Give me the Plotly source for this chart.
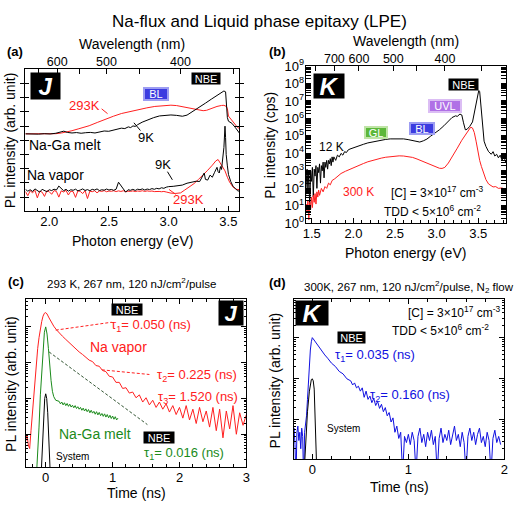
import numpy as np
import plotly.graph_objects as go

W, H = 520, 509
FONT = "Liberation Sans, Arial, sans-serif"

# ---------------- Panel (a): PL spectra, sample J (linear, arb. units) ----------------
a_melt9K_E = [1.80, 1.823, 1.862, 1.910, 1.958, 2.007, 2.055, 2.093, 2.122, 2.151, 2.190, 2.228, 2.267, 2.305,
              2.344, 2.383, 2.421, 2.460, 2.498, 2.537, 2.575, 2.604, 2.633, 2.662, 2.682, 2.701, 2.720, 2.739,
              2.778, 2.826, 2.874, 2.923, 2.971, 3.019, 3.067, 3.115, 3.154, 3.212, 3.260, 3.308, 3.357, 3.405,
              3.443, 3.463, 3.477, 3.487, 3.492, 3.501, 3.530, 3.559, 3.588, 3.607]
a_melt9K_I = [5.46, 5.45, 5.48, 5.44, 5.47, 5.45, 5.50, 5.58, 5.65, 5.56, 5.52, 5.55, 5.50, 5.54,
              5.56, 5.52, 5.60, 5.66, 5.64, 5.74, 5.80, 5.86, 5.83, 5.95, 5.90, 6.02, 5.98, 6.10,
              6.28, 6.45, 6.60, 6.72, 6.78, 6.79, 6.76, 6.70, 6.78, 7.08, 7.35, 7.62, 7.90, 8.18,
              8.40, 8.48, 8.42, 7.20, 6.60, 6.35, 6.20, 5.90, 5.50, 5.35]
a_melt293K_E = [1.80, 1.958, 2.055, 2.103, 2.151, 2.190, 2.248, 2.334, 2.402, 2.469, 2.537, 2.604, 2.672,
                2.739, 2.817, 2.884, 2.952, 3.019, 3.067, 3.125, 3.183, 3.241, 3.289, 3.318, 3.366, 3.405,
                3.443, 3.463, 3.482, 3.492, 3.501, 3.530, 3.550, 3.578, 3.607]
a_melt293K_I = [5.46, 5.44, 5.47, 5.52, 5.58, 5.68, 5.82, 6.03, 6.26, 6.49, 6.70, 6.89, 7.03,
                7.16, 7.29, 7.39, 7.45, 7.48, 7.45, 7.35, 7.22, 7.12, 7.09, 7.12, 7.28, 7.39,
                7.46, 7.47, 7.40, 7.25, 6.71, 6.40, 6.14, 5.90, 5.78]
a_vap9K_E = [1.80, 1.82, 1.84, 1.86, 1.88, 1.90, 1.92, 1.94, 1.96, 1.98, 2.00, 2.02, 2.04, 2.06, 2.08, 2.10,
             2.12, 2.14, 2.16, 2.18, 2.20, 2.22, 2.24, 2.26, 2.28, 2.30, 2.32, 2.34, 2.36, 2.38, 2.40, 2.42,
             2.44, 2.46, 2.48, 2.50, 2.52, 2.54, 2.56, 2.58, 2.60, 2.62, 2.64, 2.66, 2.68, 2.70, 2.72, 2.74,
             2.76, 2.78, 2.80, 2.82, 2.84, 2.86, 2.88, 2.90, 2.92, 2.94, 2.96, 2.98, 3.00, 3.038, 3.076, 3.115,
             3.154, 3.192, 3.231, 3.260, 3.289, 3.298, 3.308, 3.327, 3.347, 3.366, 3.385, 3.405, 3.414, 3.424,
             3.434, 3.443, 3.463, 3.472, 3.477, 3.482, 3.492, 3.501, 3.520, 3.540, 3.559, 3.578, 3.598, 3.607]
a_vap9K_I = [1.55, 1.42, 1.52, 1.40, 1.58, 1.45, 1.35, 1.55, 1.48, 1.38, 1.52, 1.46, 1.56, 1.50, 1.78, 1.62,
             1.45, 1.55, 1.42, 1.52, 1.48, 1.56, 1.44, 1.50, 1.58, 1.47, 1.53, 1.45, 1.55, 1.50, 1.58, 1.46,
             1.52, 1.49, 1.57, 1.50, 1.54, 1.48, 1.56, 2.05, 1.80, 1.62, 1.35, 1.52, 1.48, 1.55, 1.47, 1.56,
             1.52, 1.58, 1.50, 1.57, 1.53, 1.60, 1.55, 1.62, 1.58, 1.66, 1.62, 1.70, 1.74, 1.76, 1.78, 1.85,
             1.98, 2.05, 2.12, 2.10, 2.55, 2.70, 2.25, 2.20, 2.55, 2.40, 2.75, 3.10, 2.80, 2.70,
             3.15, 2.95, 4.50, 6.00, 5.20, 4.00, 3.20, 2.60, 2.10, 1.75, 1.60, 1.45, 1.40, 1.38]
a_vap293K_E = [1.80, 1.82, 1.84, 1.86, 1.88, 1.90, 1.92, 1.94, 1.96, 1.98, 2.00, 2.02, 2.04, 2.06, 2.08, 2.10,
               2.12, 2.14, 2.16, 2.18, 2.20, 2.22, 2.24, 2.26, 2.28, 2.30, 2.32, 2.34, 2.36, 2.38, 2.40, 2.42,
               2.44, 2.46, 2.48, 2.50, 2.52, 2.54, 2.56, 2.58, 2.60, 2.62, 2.64, 2.66, 2.68, 2.70, 2.72, 2.74,
               2.76, 2.78, 2.80, 2.82, 2.84, 2.86, 2.88, 2.90, 2.92, 2.94, 2.96, 2.98, 3.02, 3.06, 3.10, 3.135,
               3.173, 3.212, 3.250, 3.289, 3.328, 3.366, 3.395, 3.414, 3.434, 3.453, 3.472, 3.492, 3.511, 3.540,
               3.569, 3.607]
a_vap293K_I = [1.40, 1.10, 1.45, 1.30, 1.48, 0.95, 1.42, 1.35, 1.05, 1.45, 1.38, 1.20, 1.46, 1.40, 1.00, 1.44,
               1.36, 1.48, 1.15, 1.42, 1.38, 0.98, 1.45, 1.40, 1.25, 1.46, 0.90, 1.42, 1.38, 1.45, 1.30, 1.44,
               1.40, 1.46, 1.38, 1.43, 1.41, 1.45, 1.39, 1.44, 1.40, 1.45, 1.38, 1.42, 1.40, 1.44, 1.39, 1.43,
               1.41, 1.45, 1.40, 1.44, 1.41, 1.43, 1.39, 1.42, 1.40, 1.38, 1.40, 1.36, 1.28, 1.26, 1.30, 1.50,
               1.70, 1.95, 2.25, 2.55, 2.90, 3.25, 3.55, 3.65, 3.40, 3.15, 2.85, 2.40, 2.05, 1.70,
               1.55, 1.50]

# ---------------- Panel (b): PL spectra, sample K (log10 of counts/s) ----------------
b_12K_E = [1.400, 1.410, 1.421, 1.432, 1.443, 1.453, 1.464, 1.475, 1.486, 1.496, 1.507, 1.518, 1.529, 1.539,
           1.550, 1.561, 1.572, 1.582, 1.593, 1.604, 1.615, 1.625, 1.636, 1.647, 1.658, 1.668, 1.679, 1.690,
           1.701, 1.711, 1.722, 1.733, 1.744, 1.754, 1.765, 1.787, 1.808, 1.830, 1.851, 1.873, 1.894, 1.916,
           1.937, 1.959, 2.012, 2.066, 2.120, 2.173, 2.227, 2.281, 2.335, 2.388, 2.442, 2.496, 2.550, 2.603,
           2.657, 2.711, 2.764, 2.797, 2.840, 2.883, 2.926, 2.979, 3.033, 3.087, 3.141, 3.184, 3.227, 3.248,
           3.280, 3.302, 3.323, 3.345, 3.366, 3.398, 3.431, 3.463, 3.485, 3.506, 3.517, 3.527, 3.549, 3.570,
           3.592, 3.624, 3.656, 3.678, 3.699, 3.721, 3.742, 3.764, 3.786, 3.807, 3.829, 3.850]
b_12K_logI = [2.6, 3.0, 1.2, 2.8, 3.1, 1.9, 2.9, 0.8, 3.0, 2.4, 3.2, 1.5, 3.1, 2.7,
              3.3, 2.0, 3.2, 2.9, 3.4, 2.3, 3.3, 3.0, 3.5, 2.6, 3.5, 3.2, 3.6, 3.1,
              3.6, 3.4, 3.7, 3.3, 3.8, 3.5, 3.8, 3.6, 3.9, 3.8, 4.0, 3.9, 4.1, 4.05,
              4.2, 4.25, 4.35, 4.45, 4.52, 4.6, 4.66, 4.72, 4.76, 4.8, 4.83, 4.84, 4.85, 4.83,
              4.79, 4.72, 4.66, 4.65, 4.72, 4.82, 4.98, 5.15, 5.35, 5.58, 5.85, 6.05, 6.15, 6.12,
              6.25, 6.20, 5.75, 5.35, 5.38, 5.55, 5.80, 6.60, 7.30, 7.60, 7.55, 7.00, 5.80, 4.70,
              4.40, 4.10, 3.95, 4.10, 3.85, 3.95, 3.75, 3.90, 3.60, 3.85, 3.50, 3.75]
b_300K_E = [1.400, 1.410, 1.421, 1.432, 1.443, 1.453, 1.464, 1.475, 1.486, 1.496, 1.507, 1.518, 1.529, 1.539,
            1.550, 1.561, 1.572, 1.582, 1.593, 1.615, 1.636, 1.658, 1.679, 1.701, 1.722, 1.744, 1.776, 1.808,
            1.851, 1.905, 1.959, 2.012, 2.066, 2.120, 2.173, 2.227, 2.281, 2.335, 2.388, 2.442, 2.496, 2.550,
            2.603, 2.657, 2.711, 2.764, 2.818, 2.872, 2.926, 2.979, 3.033, 3.065, 3.098, 3.141, 3.194, 3.248,
            3.302, 3.355, 3.388, 3.409, 3.431, 3.452, 3.474, 3.495, 3.517, 3.538, 3.560, 3.592, 3.624, 3.678,
            3.710, 3.742, 3.786, 3.818, 3.850]
b_300K_logI = [0.5, 1.0, 0.3, 1.1, 0.6, 1.3, 0.2, 1.2, 0.8, 1.5, 0.9, 1.6, 1.2, 1.7,
               1.1, 1.8, 1.5, 1.9, 1.6, 2.0, 1.8, 2.1, 2.0, 2.3, 2.2, 2.45, 2.55, 2.7,
               2.85, 2.98, 3.1, 3.2, 3.32, 3.42, 3.52, 3.6, 3.67, 3.73, 3.78, 3.82, 3.85, 3.86,
               3.85, 3.82, 3.77, 3.68, 3.57, 3.45, 3.33, 3.22, 3.15, 3.14, 3.2, 3.45, 3.85, 4.3,
               4.75, 5.15, 5.4, 5.5, 5.45, 5.2, 4.7, 4.1, 3.6, 3.25, 2.95, 2.5, 2.25, 2.08,
               2.1, 2.0, 2.02, 1.95, 1.98]

# ---------------- Panel (c): TRPL, sample J (log10 of arb. intensity) ----------------
c_vapor_t = [-0.30, -0.28, -0.26, -0.24, -0.22, -0.20, -0.18, -0.16, -0.14, -0.12, -0.10, -0.08, -0.06, -0.04,
             -0.02, 0.00, 0.02, 0.05, 0.08, 0.12, 0.16, 0.20, 0.25, 0.30, 0.35, 0.40, 0.45, 0.50, 0.55, 0.60,
             0.65, 0.70, 0.75, 0.80, 0.85, 0.90, 0.95, 1.00, 1.05, 1.10, 1.15, 1.20, 1.25, 1.30, 1.35, 1.40,
             1.45, 1.50, 1.55, 1.60, 1.65, 1.70, 1.75, 1.80, 1.85, 1.90, 1.95, 2.00, 2.05, 2.10, 2.15, 2.20,
             2.25, 2.30, 2.35, 2.40, 2.45, 2.50, 2.55, 2.60, 2.65, 2.70, 2.75, 2.80, 2.85, 2.90, 2.95, 3.00]
c_vapor_logI = [-3.2, -3.0, -3.3, -3.4, -2.9, -2.4, -1.9, -1.45, -1.0, -0.6, -0.3, -0.05, 0.15, 0.30,
                0.38, 0.40, 0.36, 0.25, 0.14, 0.02, -0.08, -0.17, -0.26, -0.35, -0.44, -0.53, -0.62, -0.70, -0.77, -0.84,
                -0.93, -0.97, -1.08, -1.10, -1.22, -1.25, -1.38, -1.40, -1.55, -1.55, -1.72, -1.70, -1.85, -1.82, -1.98, -1.90,
                -2.10, -1.98, -2.18, -2.05, -2.25, -2.10, -2.30, -2.15, -2.38, -2.20, -2.45, -2.25, -2.55, -2.20, -2.60, -2.30,
                -2.70, -2.25, -2.65, -2.35, -2.80, -2.25, -2.90, -2.30, -3.10, -2.35, -2.85, -2.20, -3.00, -2.40, -2.75, -2.45]
c_melt_t = [-0.14, -0.12, -0.10, -0.08, -0.06, -0.04, -0.02, 0.00, 0.02, 0.04, 0.06, 0.08, 0.10, 0.12, 0.15,
            0.20, 0.22, 0.24, 0.26, 0.28, 0.30, 0.32, 0.34, 0.36, 0.38, 0.40, 0.42, 0.44, 0.46, 0.48, 0.50,
            0.52, 0.54, 0.56, 0.58, 0.60, 0.62, 0.64, 0.66, 0.68, 0.70, 0.72, 0.74, 0.76, 0.78, 0.80, 0.82,
            0.84, 0.86, 0.88, 0.90, 0.92, 0.94, 0.96, 0.98, 1.00, 1.02, 1.04, 1.06, 1.08]
c_melt_logI = [-4.2, -3.6, -2.8, -1.9, -1.2, -0.6, -0.15, 0.0, -0.2, -0.6, -1.1, -1.5, -1.8, -1.95, -2.05,
               -2.08, -2.15, -2.10, -2.18, -2.12, -2.20, -2.14, -2.22, -2.16, -2.24, -2.19, -2.26, -2.20, -2.28, -2.23, -2.30,
               -2.25, -2.33, -2.27, -2.35, -2.29, -2.37, -2.31, -2.40, -2.33, -2.41, -2.36, -2.44, -2.37, -2.46, -2.39, -2.48,
               -2.42, -2.50, -2.43, -2.52, -2.45, -2.54, -2.47, -2.56, -2.49, -2.58, -2.51, -2.60, -2.55]
c_sys_t = [-0.07, -0.05, -0.03, -0.015, 0.00, 0.015, 0.03, 0.05, 0.07]
c_sys_logI = [-4.2, -3.3, -2.4, -2.0, -1.87, -2.0, -2.4, -3.3, -4.2]
# guide / fit lines (t, log10 I)
c_fit1_t, c_fit1_logI = [0.15, 0.985], [-0.09, 0.13]
c_fit2_t, c_fit2_logI = [0.84, 1.55], [-1.20, -1.33]
c_fit3_t, c_fit3_logI = [0.05, 1.52], [-0.70, -2.73]

# ---------------- Panel (d): TRPL, sample K (log10 of arb. intensity) ----------------
d_blue_t = [-0.20, -0.19, -0.18, -0.17, -0.16, -0.15, -0.14, -0.13, -0.12, -0.11, -0.10, -0.09, -0.08, -0.07,
            -0.06, -0.05, -0.04, -0.03, -0.02, -0.01, 0.00, 0.01, 0.03, 0.05, 0.07, 0.10, 0.13, 0.16, 0.20,
            0.24, 0.28, 0.32, 0.36,
            0.40, 0.42, 0.44, 0.46, 0.48, 0.50, 0.52, 0.54, 0.56, 0.58, 0.60, 0.62, 0.64, 0.66, 0.68, 0.70,
            0.72, 0.74, 0.76, 0.78, 0.80, 0.82, 0.84, 0.86, 0.88, 0.90, 0.92, 0.94, 0.96, 0.98, 1.00, 1.02,
            1.04, 1.06, 1.08, 1.10, 1.12, 1.14, 1.16, 1.18, 1.20, 1.22, 1.24, 1.26, 1.28, 1.30, 1.32, 1.34,
            1.36, 1.38, 1.40, 1.42, 1.44, 1.46, 1.48, 1.50, 1.52, 1.54, 1.56, 1.58, 1.60, 1.62, 1.64, 1.66,
            1.68, 1.70, 1.72, 1.74, 1.76, 1.78, 1.80, 1.82, 1.84, 1.86, 1.88, 1.90, 1.92, 1.94, 1.96]
d_blue_logI = [-2.4, -2.2, -2.6, -3.5, -2.3, -2.15, -2.5, -2.3, -2.7, -2.2, -2.4, -3.5, -2.3, -2.1,
               -1.9, -1.5, -1.0, -0.6, -0.3, -0.1, 0.0, -0.03, -0.10, -0.17, -0.23, -0.33, -0.42, -0.50, -0.62,
               -0.70, -0.82, -0.88, -1.00,
               -1.05, -1.15, -1.10, -1.22, -1.18, -1.30, -1.22, -1.45, -1.30, -1.50, -1.42, -1.58, -1.48, -1.65, -1.55, -1.72,
               -1.62, -1.80, -1.70, -1.90, -1.82, -2.05, -1.95, -2.30, -2.15, -2.45, -2.30, -3.30, -2.40, -2.55, -2.35, -2.60,
               -2.30, -2.50, -3.30, -2.40, -2.20, -2.55, -2.35, -2.65, -2.30, -2.50, -2.25, -2.60, -2.40, -3.30, -2.45, -2.20,
               -2.55, -2.35, -2.50, -2.25, -2.60, -2.40, -2.15, -2.50, -2.35, -2.65, -2.30, -2.55, -3.30, -2.40, -2.20, -2.50,
               -2.30, -2.60, -2.35, -2.20, -2.55, -2.40, -2.65, -2.30, -2.50, -3.30, -2.45, -2.25, -2.55, -2.40, -2.60]
d_sys_t = [-0.09, -0.07, -0.05, -0.03, -0.01, 0.00, 0.01, 0.02, 0.03, 0.04, 0.05]
d_sys_logI = [-3.5, -2.6, -1.8, -1.3, -1.02, -1.0, -1.05, -1.25, -1.8, -2.6, -3.5]

# wavelength ticks for top axes
a_wl_ticks = [650, 600, 550, 500, 450, 400, 350]
a_wl_labels = ["", "600", "", "500", "", "400", ""]
b_wl_ticks = [800, 700, 600, 500, 450, 400, 350]
b_wl_labels = ["", "700", "600", "500", "", "400", ""]
HC = 1239.84

RED = "#ff2020"
GREEN = "#1a8a1a"
BLUE = "#1010e0"


def px(x):
    return x / W


def py(y):
    return 1 - y / H


fig = go.Figure()
# (a)
fig.add_trace(go.Scatter(x=a_melt293K_E, y=a_melt293K_I, mode="lines", line=dict(color=RED, width=1), xaxis="x", yaxis="y"))
fig.add_trace(go.Scatter(x=a_melt9K_E, y=a_melt9K_I, mode="lines", line=dict(color="black", width=1), xaxis="x", yaxis="y"))
fig.add_trace(go.Scatter(x=a_vap293K_E, y=a_vap293K_I, mode="lines", line=dict(color=RED, width=1), xaxis="x", yaxis="y"))
fig.add_trace(go.Scatter(x=a_vap9K_E, y=a_vap9K_I, mode="lines", line=dict(color="black", width=1), xaxis="x", yaxis="y"))
fig.add_trace(go.Scatter(x=[HC / 500], y=[None], mode="lines", xaxis="x2", yaxis="y", hoverinfo="skip"))
# (b)
fig.add_trace(go.Scatter(x=b_12K_E, y=10 ** np.array(b_12K_logI), mode="lines", line=dict(color="black", width=1), xaxis="x3", yaxis="y2"))
fig.add_trace(go.Scatter(x=b_300K_E, y=10 ** np.array(b_300K_logI), mode="lines", line=dict(color=RED, width=1), xaxis="x3", yaxis="y2"))
fig.add_trace(go.Scatter(x=[HC / 500], y=[None], mode="lines", xaxis="x4", yaxis="y2", hoverinfo="skip"))
# (c)
DASH = "3px,2px"
fig.add_trace(go.Scatter(x=c_fit1_t, y=10 ** np.array(c_fit1_logI), mode="lines", line=dict(color=RED, width=1, dash=DASH), xaxis="x5", yaxis="y3"))
fig.add_trace(go.Scatter(x=c_fit2_t, y=10 ** np.array(c_fit2_logI), mode="lines", line=dict(color=RED, width=1, dash=DASH), xaxis="x5", yaxis="y3"))
fig.add_trace(go.Scatter(x=c_fit3_t, y=10 ** np.array(c_fit3_logI), mode="lines", line=dict(color="#335533", width=1, dash=DASH), xaxis="x5", yaxis="y3"))
fig.add_trace(go.Scatter(x=c_vapor_t, y=10 ** np.array(c_vapor_logI), mode="lines", line=dict(color=RED, width=1), xaxis="x5", yaxis="y3"))
fig.add_trace(go.Scatter(x=c_melt_t, y=10 ** np.array(c_melt_logI), mode="lines", line=dict(color=GREEN, width=1), xaxis="x5", yaxis="y3"))
fig.add_trace(go.Scatter(x=c_sys_t, y=10 ** np.array(c_sys_logI), mode="lines", line=dict(color="black", width=1), xaxis="x5", yaxis="y3"))
# (d)
fig.add_trace(go.Scatter(x=d_blue_t, y=10 ** np.array(d_blue_logI), mode="lines", line=dict(color=BLUE, width=1), xaxis="x6", yaxis="y4"))
fig.add_trace(go.Scatter(x=d_sys_t, y=10 ** np.array(d_sys_logI), mode="lines", line=dict(color="black", width=1), xaxis="x6", yaxis="y4"))

tickfont = dict(family=FONT, size=13, color="black")
common = dict(showgrid=False, zeroline=False, showline=True, linecolor="black", linewidth=1,
              ticks="inside", ticklen=5, tickwidth=1, tickcolor="black", tickfont=tickfont)


def mk(**kw):
    d = dict(common)
    d.update(kw)
    return d


# frames in pixels
A = dict(x=(22.7, 239.3), y=(62.5, 209.3))
B = dict(x=(306.7, 510), y=(59, 221.7))
C = dict(x=(23.3, 246.7), y=(300, 474))
D = dict(x=(295, 508.3), y=(300, 466))


def dom(p):
    return [px(p["x"][0]), px(p["x"][1])], [py(p["y"][1]), py(p["y"][0])]


ax, ay = dom(A)
bx, by = dom(B)
cx, cy = dom(C)
dx, dy = dom(D)

a_range = [1.80, 3.59]
b_range = [1.425, 3.835]

log_minor_c = [m * 10 ** e for e in range(-5, 2) for m in range(2, 10)]
topfont = dict(family=FONT, size=12.5, color="black")

fig.update_layout(
    width=W, height=H, margin=dict(l=0, r=0, t=0, b=0),
    paper_bgcolor="white", plot_bgcolor="white", showlegend=False,
    font=dict(family=FONT, color="black"),
    xaxis=mk(domain=ax, anchor="y", range=a_range, tickvals=[2.0, 2.5, 3.0, 3.5],
             ticktext=["2.0", "2.5", "3.0", "3.5"], mirror=False, ticklabelstandoff=-2,
             minor=dict(ticks="inside", ticklen=3, tickcolor="black", dtick=0.1, tick0=0)),
    xaxis2=mk(overlaying="x", side="top", anchor="y", range=a_range, ticklabelstandoff=-3,
              tickfont=topfont, tickvals=[HC / w for w in a_wl_ticks], ticktext=a_wl_labels),
    yaxis=mk(domain=ay, anchor="x", range=[0, 10], dtick=1, tick0=0, ticklen=4,
             showticklabels=False, mirror="allticks"),
    xaxis3=mk(domain=bx, anchor="y2", range=b_range, tickvals=[1.5, 2.0, 2.5, 3.0, 3.5],
              ticktext=["1.5", "2.0", "2.5", "3.0", "3.5"], mirror=False, ticklabelstandoff=-2,
              minor=dict(ticks="inside", ticklen=3, tickcolor="black", dtick=0.1, tick0=0)),
    xaxis4=mk(overlaying="x3", side="top", anchor="y2", range=b_range, ticklabelstandoff=-3,
              tickfont=topfont, tickvals=[HC / w for w in b_wl_ticks], ticktext=b_wl_labels),
    yaxis2=mk(domain=by, anchor="x3", type="log", range=[0, 9], ticklabelstandoff=-2,
              tickvals=[10 ** e for e in range(0, 10)],
              ticktext=["10<sup>%d</sup>" % e for e in range(0, 10)], mirror="allticks",
              minor=dict(ticks="inside", ticklen=2, tickcolor="black",
                         tickvals=[m * 10 ** e for e in range(0, 9) for m in range(2, 10)])),
    xaxis5=mk(domain=cx, anchor="y3", range=[-0.295, 3.0], dtick=1, tick0=0, mirror="allticks",
              ticklabelstandoff=-2,
              minor=dict(ticks="inside", ticklen=3, tickcolor="black", dtick=0.2, tick0=0)),
    yaxis3=mk(domain=cy, anchor="x5", type="log", range=[-3.92, 0.78],
              tickvals=[10 ** e for e in range(-4, 1)], showticklabels=False, mirror="allticks",
              minor=dict(ticks="inside", ticklen=2, tickcolor="black", tickvals=log_minor_c)),
    xaxis6=mk(domain=dx, anchor="y4", range=[-0.19, 2.0], dtick=1, tick0=0, mirror="allticks",
              ticklabelstandoff=-2,
              minor=dict(ticks="inside", ticklen=3, tickcolor="black", dtick=0.2, tick0=0)),
    yaxis4=mk(domain=dy, anchor="x6", type="log", range=[-2.96, 0.94],
              tickvals=[10 ** e for e in range(-3, 1)], showticklabels=False, mirror="allticks",
              minor=dict(ticks="inside", ticklen=2, tickcolor="black", tickvals=log_minor_c)),
)

ann = []


def text(x, y, s, size=13, color="black", bold=False, angle=0, xanchor="center"):
    if bold:
        s = "<b>" + s + "</b>"
    ann.append(dict(x=px(x), y=py(y), xref="paper", yref="paper", text=s, showarrow=False,
                    font=dict(family=FONT, size=size, color=color), textangle=angle,
                    xanchor=xanchor, yanchor="middle"))


def box(x, y, s, bg="black", size=11, w=None, h=None, border=None, italic=False):
    if italic:
        s = "<b><i>" + s + "</i></b>"
    d = dict(x=px(x), y=py(y), xref="paper", yref="paper", text=s, showarrow=False,
             font=dict(family=FONT, size=size, color="white"), bgcolor=bg,
             xanchor="center", yanchor="middle", borderpad=0)
    if w:
        d["width"] = w
    if h:
        d["height"] = h
    if border:
        d["bordercolor"] = border
        d["borderwidth"] = 2
    ann.append(d)


# title
text(260, 13, "Na-flux and Liquid phase epitaxy (LPE)", size=17)
# (a)
text(12, 44, "(a)", size=13, bold=True)
text(131, 36, "Wavelength (nm)", size=14)
text(131, 240, "Photon energy (eV)", size=14)
text(8, 136, "PL intensity (arb. unit)", size=14, angle=-90)
box(43.5, 79.5, "J", size=24, w=29, h=26, italic=True)
box(206, 72, "NBE", size=11, w=28, h=11)
box(155, 87.5, "BL", bg="#3c3ce0", size=11, w=22, h=10, border="#9d9df2")
text(83, 100, "293K", size=13, color=RED)
text(145, 133, "9K", size=13)
text(63, 141, "Na-Ga melt", size=14)
text(162, 161, "9K", size=13)
text(53, 172, "Na vapor", size=14)
text(188, 197, "293K", size=13, color=RED)
# (b)
text(278, 44, "(b)", size=13, bold=True)
text(408, 33, "Wavelength (nm)", size=14)
text(408, 252, "Photon energy (eV)", size=14)
text(271, 141, "PL intensity (cps)", size=14, angle=-90)
box(330, 80, "K", size=24, w=30, h=24, italic=True)
box(467, 78, "NBE", size=11, w=29, h=11)
box(448.5, 100, "UVL", bg="#b070e6", size=11, w=30, h=10, border="#dbbdf4")
box(424.5, 124, "BL", bg="#3c3ce0", size=11, w=22, h=9, border="#9d9df2")
box(378.5, 127.5, "GL", bg="#5cb83a", size=11, w=20, h=9, border="#bfe4a6")
text(333, 143, "12 K", size=12)
text(360, 189, "300 K", size=12, color=RED)
text(440, 189, "[C] = 3×10<sup>17</sup> cm<sup>-3</sup>", size=12)
text(435, 209, "TDD &lt; 5×10<sup>6</sup> cm<sup>-2</sup>", size=12)
# (c)
text(13, 282, "(c)", size=13, bold=True)
text(130, 283, "293 K, 267 nm, 120 nJ/cm<sup>2</sup>/pulse", size=11.5)
text(135, 501, "Time (ns)", size=14)
text(8, 388, "PL intensity (arb. unit)", size=14, angle=-90)
box(231, 314, "J", size=22, w=24, h=24, italic=True)
box(126, 311, "NBE", size=11, w=30, h=11)
text(150, 327, "τ<sub>1</sub>= 0.050 (ns)", size=13, color=RED)
text(117, 350, "Na vapor", size=14, color=RED)
text(197, 379, "τ<sub>2</sub>= 0.225 (ns)", size=13, color=RED)
text(198, 402, "τ<sub>3</sub>= 1.520 (ns)", size=13, color=RED)
text(93, 440, "Na-Ga melt", size=14, color=GREEN)
box(158, 443, "NBE", size=11, w=30, h=11)
text(183, 460, "τ<sub>1</sub>= 0.016 (ns)", size=13, color=GREEN)
text(70, 463, "System", size=10)
# (d)
text(278, 283, "(d)", size=13, bold=True)
text(412, 288, "300K, 267 nm, 120 nJ/cm<sup>2</sup>/pulse, N<sub>2</sub> flow", size=11.5)
text(402, 495, "Time (ns)", size=14)
text(276, 384, "PL intensity (arb. unit)", size=14, angle=-90)
box(313, 314, "K", size=24, w=32, h=24, italic=True)
text(507, 313, "[C] = 3×10<sup>17</sup> cm<sup>-3</sup>", size=12, xanchor="right")
text(495, 332, "TDD &lt; 5×10<sup>6</sup> cm<sup>-2</sup>", size=12, xanchor="right")
box(353, 340, "NBE", size=11, w=27, h=11)
text(377, 358, "τ<sub>1</sub>= 0.035 (ns)", size=13, color=BLUE)
text(413, 400, "τ<sub>2</sub>= 0.160 (ns)", size=13, color=BLUE)
text(345, 434, "System", size=10)

fig.update_layout(annotations=ann)

# leader lines in panel (a)
shapes = []
for (x0, y0, x1, y1, col) in [(100, 103.3, 106, 108.3, RED), (132.7, 117.7, 139.3, 125.7, "black"),
                              (166.7, 168.3, 171.7, 176.7, "black"), (168.3, 186.7, 175, 191.7, RED)]:
    shapes.append(dict(type="line", xref="paper", yref="paper", x0=px(x0), y0=py(y0), x1=px(x1), y1=py(y1),
                       line=dict(color=col, width=1)))
fig.update_layout(shapes=shapes)

fig.write_html("out.html")
